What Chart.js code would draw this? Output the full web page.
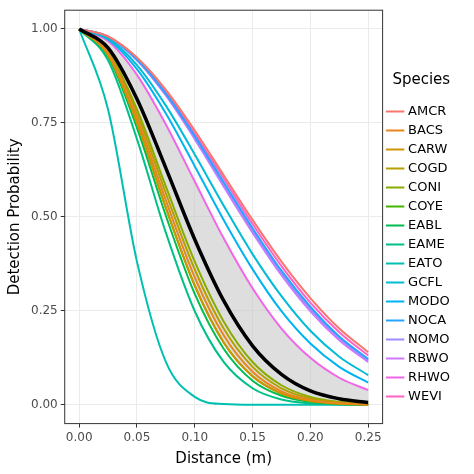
<!DOCTYPE html>
<html><head><meta charset="utf-8">
<script src="https://cdn.jsdelivr.net/npm/chart.js"></script>
<style>body{margin:0;background:#fff}#wrap{width:474px;height:474px}</style>
</head><body><div id="wrap"><canvas id="c"></canvas></div>
<script>
// distances along the x axis
const distances = [0, 0.025, 0.05, 0.075, 0.1, 0.125, 0.15, 0.175, 0.2, 0.225, 0.25];
const species = ['AMCR','BACS','CARW','COGD','CONI','COYE','EABL','EAME','EATO','GCFL','MODO','NOCA','NOMO','RBWO','RHWO','WEVI'];
const colors = ['#F8766D','#E7851E','#D09400','#B2A100','#89AC00','#45B500','#00BC51','#00C087','#00C0B2','#00BCD6','#00B3F2','#29A3FF','#9C8DFF','#D277FF','#F166E8','#FF61C7'];
// detection probability per species
const AMCR = [1,.980,.924,.838,.730,.611,.492,.381,.284,.203,.140];
const BACS = [1,.935,.763,.544,.339,.185,.088,.036,.013,.004,.001];
const CARW = [1,.931,.751,.524,.317,.166,.076,.030,.010,.003,.001];
const COGD = [1,.938,.775,.563,.360,.203,.101,.044,.017,.006,.002];
const CONI = [1,.941,.786,.581,.381,.222,.114,.052,.021,.008,.002];
const COYE = [1,.931,.751,.524,.317,.166,.076,.030,.010,.003,.001];
const EABL = [1,.927,.737,.503,.295,.149,.064,.024,.008,.002,.001];
const EAME = [1,.917,.707,.458,.249,.114,.044,.014,.004,.001,0];
const EATO = [1,.786,.381,.114,.021,.002,0,0,0,0,0];
const GCFL = [1,.975,.904,.796,.666,.530,.401,.289,.197,.128,.079];
const MODO = [1,.972,.893,.775,.635,.492,.361,.249,.163,.101,.059];
const NOCA = [1,.979,.919,.828,.715,.592,.470,.357,.261,.182,.122];
const NOMO = [1,.979,.918,.825,.711,.587,.464,.351,.255,.178,.118];
const RBWO = [1,.979,.917,.823,.707,.581,.458,.345,.249,.172,.114];
const RHWO = [1,.968,.878,.746,.594,.443,.310,.203,.125,.072,.039];
const WEVI = [1,.980,.922,.833,.722,.602,.481,.369,.272,.193,.131];
const overall = [1,.950,.814,.630,.440,.277,.157,.081,.037,.016,.006];
const bandLow = [1,.931,.751,.524,.317,.166,.076,.030,.010,.003,.001];
const bandHigh = [1,.968,.878,.746,.594,.443,.310,.203,.125,.072,.039];
const xTicks = [0, 0.05, 0.1, 0.15, 0.2, 0.25];
const yTicks = [0, 0.25, 0.5, 0.75, 1];

const seriesData = [AMCR,BACS,CARW,COGD,CONI,COYE,EABL,EAME,EATO,GCFL,MODO,NOCA,NOMO,RBWO,RHWO,WEVI];
const pts = arr => arr.map((v, i) => ({x: distances[i], y: v}));
const line = {pointRadius: 0, cubicInterpolationMode: 'monotone', borderWidth: 2, fill: false};

const datasets = [
  {...line, label: '_lo', data: pts(bandLow), borderWidth: 0, borderColor: 'rgba(0,0,0,0)', order: 30},
  {...line, label: '_hi', data: pts(bandHigh), borderWidth: 0, borderColor: 'rgba(0,0,0,0)', fill: '-1', backgroundColor: 'rgba(200,200,200,0.6)', order: 30},
  ...species.map((s, i) => ({...line, label: s, data: pts(seriesData[i]), borderColor: colors[i], backgroundColor: colors[i], order: 20})),
  {...line, label: '_all', data: pts(overall), borderColor: '#000', borderWidth: 3.5, order: 1}
];

const panelBorder = {
  id: 'panelBorder',
  afterDraw(chart) {
    const a = chart.chartArea, c = chart.ctx;
    c.save(); c.strokeStyle = '#333'; c.lineWidth = 1;
    c.strokeRect(a.left, a.top, a.right - a.left, a.bottom - a.top);
    c.restore();
  }
};

const tickFont = {family: 'DejaVu Sans', size: 12};
new Chart(document.getElementById('c'), {
  type: 'line',
  data: {datasets},
  plugins: [panelBorder],
  options: {
    animation: false, responsive: true, maintainAspectRatio: false,
    layout: {padding: {top: 10, right: 14, left: 2, bottom: 2}},
    plugins: {
      legend: {
        position: 'right', align: 'center',
        title: {display: true, text: 'Species', font: {family: 'DejaVu Sans', size: 15}, color: '#000', padding: {top: 0, bottom: 8}},
        labels: {
          usePointStyle: true, pointStyle: 'line', boxWidth: 26, padding: 6,
          font: {family: 'DejaVu Sans', size: 13}, color: '#000',
          filter: it => !it.text.startsWith('_')
        }
      },
      tooltip: {enabled: false}
    },
    scales: {
      x: {
        type: 'linear', min: -0.0125, max: 0.2625,
        afterBuildTicks: ax => { ax.ticks = xTicks.map(v => ({value: v})); },
        ticks: {font: tickFont, color: '#4D4D4D', callback: v => v.toFixed(2)},
        grid: {color: '#EBEBEB', tickLength: 4, tickColor: '#333'},
        border: {display: false},
        title: {display: true, text: 'Distance (m)', font: {family: 'DejaVu Sans', size: 15}, color: '#000', padding: {top: 2}}
      },
      y: {
        min: -0.05, max: 1.05,
        afterBuildTicks: ax => { ax.ticks = yTicks.map(v => ({value: v})); },
        ticks: {font: tickFont, color: '#4D4D4D', callback: v => v.toFixed(2)},
        grid: {color: '#EBEBEB', tickLength: 4, tickColor: '#333'},
        border: {display: false},
        title: {display: true, text: 'Detection Probability', font: {family: 'DejaVu Sans', size: 15}, color: '#000'}
      }
    }
  }
});
</script></body></html>
